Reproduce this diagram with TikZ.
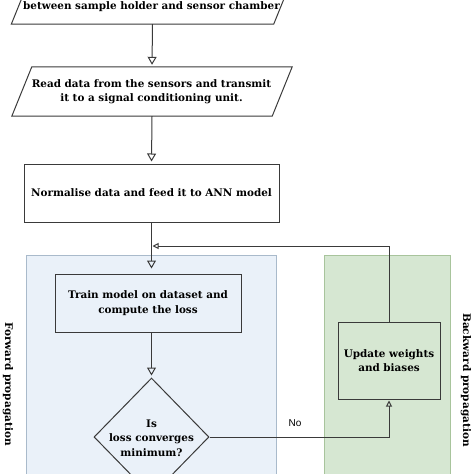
\documentclass[tikz,border=0pt]{standalone}
\usepackage{fontspec}
\setmainfont{DejaVu Serif}
\newfontfamily\labelsans{Liberation Sans}
\usetikzlibrary{arrows.meta,shapes.geometric}
\definecolor{linec}{HTML}{3A3A3A}
\definecolor{bluefill}{HTML}{EAF1F9}
\definecolor{blueline}{HTML}{A9BACB}
\definecolor{greenfill}{HTML}{D6E7D2}
\definecolor{greenline}{HTML}{A8C49C}
\tikzset{
  txt/.style={font=\bfseries\fontsize{10.4}{14.5}\selectfont, align=center, text=black},
  box/.style={draw=linec, line width=1pt, fill=none, txt},
  flow/.style={draw=linec, line width=1pt, -{Triangle[open,length=8pt,width=9pt]}, shorten >=2pt},
  flowsmall/.style={draw=linec, line width=1pt, -{Triangle[open,length=6pt,width=6pt]}, shorten >=1pt},
  region/.style={line width=0.8pt},
  sidelabel/.style={font=\bfseries\fontsize{10.5}{12}\selectfont, rotate=-90, text=black},
}
\begin{document}
\begin{tikzpicture}[x=1pt,y=-1pt]
\useasboundingbox (0,0) rectangle (474,474);
\clip (0,0) rectangle (474,474);
% regions
\path[region, fill=bluefill, draw=blueline] (26,255) rectangle (276,490);
\path[region, fill=greenfill, draw=greenline] (324,255) rectangle (450,490);
% parallelogram 1
\node[draw=none, minimum width=262pt, minimum height=49pt, inner sep=0pt] (p1) at (152.5,-0.5) {};
\draw[linec, line width=1pt] ([xshift=10pt]p1.north west) -- ([xshift=10pt]p1.north east) -- ([xshift=-10pt]p1.south east) -- ([xshift=-10pt]p1.south west) -- cycle;
\node[txt] (p1t) at (151.5,7) {between sample holder and sensor chamber};
% parallelogram 2
\node[draw=none, minimum width=260pt, minimum height=49pt, inner sep=0pt] (p2) at (152,91.5) {};
\draw[linec, line width=1pt] ([xshift=10pt]p2.north west) -- ([xshift=10pt]p2.north east) -- ([xshift=-10pt]p2.south east) -- ([xshift=-10pt]p2.south west) -- cycle;
\node[txt] (p2t) at (151.5,91.5) {Read data from the sensors and transmit\\it to a signal conditioning unit.};
% normalise
\node[box, minimum width=255pt, minimum height=58pt] (norm) at (151.5,193) {Normalise data and feed it to ANN model};
% train
\node[box, minimum width=186pt, minimum height=58pt] (train) at (148,303) {Train model on dataset and\\compute the loss};
% diamond
\node[draw=linec, line width=1pt, shape=diamond, minimum width=115pt, minimum height=118pt, inner sep=0pt] (dec) at (151.5,437) {};
\node[txt] (dect) at (151.5,438) {Is\\loss converges\\minimum?};
% update
\node[box, minimum width=102pt, minimum height=77pt] (upd) at (389,360.5) {Update weights\\and biases};
% join coordinate
\coordinate (join) at (151.5,246);
% connectors
\draw[flow] (p1.south) -- (p2.north);
\draw[flow] (p2.south) -- (norm.north);
\draw[linec, line width=1pt] (norm.south) -- (join);
\draw[flow, shorten >=5pt] (join) -- (join |- train.north);
\draw[flow] (join |- train.south) -- (dec.north);
\draw[flowsmall] (upd.north) |- (join);
\draw[flowsmall] (dec.east) -| (upd.south);
\node[font=\labelsans\fontsize{10}{12}\selectfont, text=black] (no) at (295,423) {No};
% side labels
\node[sidelabel] (fwd) at (8,384) {Forward propagation};
\node[sidelabel] (bwd) at (466,380) {Backward propagation};
\end{tikzpicture}
\end{document}
